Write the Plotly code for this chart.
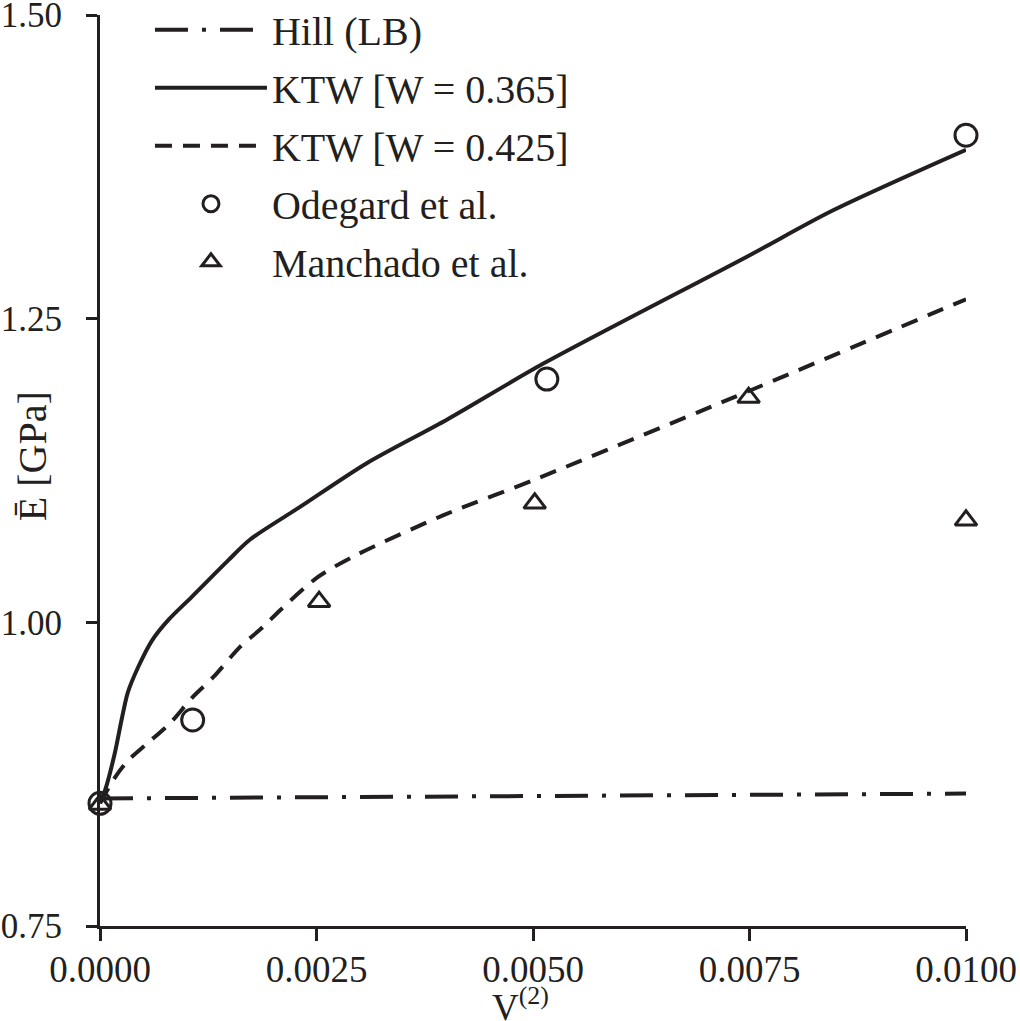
import plotly.graph_objects as go

# ---------------- data ----------------
hill_x = [0.0, 0.005, 0.010]
hill_y = [0.855, 0.857, 0.859]

ktw365_x = [0.0, 0.00006, 0.00017, 0.00025, 0.00032, 0.00044, 0.00060, 0.00079, 0.00106,
            0.00148, 0.00173, 0.00231, 0.00308, 0.00401, 0.00512, 0.00747, 0.00846, 0.0100]
ktw365_y = [0.851, 0.862, 0.892, 0.920, 0.942, 0.963, 0.985, 1.002, 1.021,
            1.051, 1.068, 1.095, 1.131, 1.167, 1.213, 1.301, 1.339, 1.389]

ktw425_x = [0.0, 0.00017, 0.00032, 0.00054, 0.00081, 0.00107, 0.00131, 0.00162, 0.00188,
            0.00208, 0.00251, 0.00292, 0.00396, 0.0050, 0.00731, 0.0100]
ktw425_y = [0.851, 0.872, 0.886, 0.900, 0.917, 0.9385, 0.955, 0.980, 0.996,
            1.010, 1.037, 1.054, 1.088, 1.117, 1.185, 1.266]

odegard_x = [0.0, 0.00107, 0.00516, 0.0100]
odegard_y = [0.851, 0.9196, 1.2003, 1.401]

manchado_x = [0.0, 0.00253, 0.00502, 0.00749, 0.0100]
manchado_y = [0.850, 1.017, 1.098, 1.185, 1.084]

x_ticks = [0.0, 0.0025, 0.0050, 0.0075, 0.0100]
x_ticklabels = ["0.0000", "0.0025", "0.0050", "0.0075", "0.0100"]
y_ticks = [0.75, 1.00, 1.25, 1.50]
y_ticklabels = ["0.75", "1.00", "1.25", "1.50"]

names = ["Hill (LB)", "KTW [W = 0.365]", "KTW [W = 0.425]", "Odegard et al.", "Manchado et al."]

# ---------------- style ----------------
INK = "#231f20"
FONT = "Liberation Serif, Times New Roman, serif"

fig = go.Figure()
fig.add_trace(go.Scatter(x=hill_x, y=hill_y, mode="lines", name=names[0], legendgroup="a",
                         line=dict(color=INK, width=4, dash="33px,14px,4px,14px")))
fig.add_trace(go.Scatter(x=ktw365_x, y=ktw365_y, mode="lines", name=names[1], legendgroup="b",
                         line=dict(color=INK, width=4, shape="spline", smoothing=0.8)))
fig.add_trace(go.Scatter(x=ktw425_x, y=ktw425_y, mode="lines", name=names[2], legendgroup="c",
                         line=dict(color=INK, width=4, dash="17px,11px", shape="spline", smoothing=0.8)))
fig.add_trace(go.Scatter(x=odegard_x, y=odegard_y, mode="markers", name=names[3], legendgroup="d",
                         cliponaxis=False,
                         marker=dict(symbol="circle-open", size=22, color=INK, line=dict(width=3, color=INK))))
fig.add_trace(go.Scatter(x=manchado_x, y=manchado_y, mode="markers", name=names[4], legendgroup="e",
                         cliponaxis=False,
                         marker=dict(symbol="triangle-up-open", size=19, color=INK, line=dict(width=3, color=INK))))

fig.update_layout(
    template="none",
    width=1020, height=1021,
    margin=dict(l=100, r=54, t=15, b=95, autoexpand=False),
    paper_bgcolor="white", plot_bgcolor="white",
    font=dict(family=FONT, color=INK, size=38),
    showlegend=True,
    legend=dict(x=0.0577, y=1.0195, xanchor="left", yanchor="top",
                font=dict(family=FONT, size=40, color=INK),
                bgcolor="rgba(0,0,0,0)", borderwidth=0, itemwidth=112,
                tracegroupgap=3, traceorder="grouped"),
    annotations=[
        dict(text="Ē [GPa]", xref="paper", yref="paper", x=-0.077, y=0.516,
             xanchor="center", yanchor="middle", textangle=-90, showarrow=False,
             font=dict(family=FONT, size=40, color=INK)),
        dict(text="V<sup>(2)</sup>", xref="paper", yref="paper", x=0.486, y=-0.0865,
             xanchor="center", yanchor="middle", showarrow=False,
             font=dict(family=FONT, size=37, color=INK)),
    ],
)
fig.update_xaxes(range=[0, 0.01], tickvals=x_ticks, ticktext=x_ticklabels, automargin=False,
                 showline=True, linewidth=3, linecolor=INK, ticks="outside", ticklen=12,
                 tickwidth=3, tickcolor=INK, showgrid=False, zeroline=False,
                 ticklabelstandoff=-3, ticklabeloverflow="allow",
                 tickfont=dict(family=FONT, size=37, color=INK))
fig.update_yaxes(range=[0.75, 1.5], tickvals=y_ticks, ticktext=y_ticklabels, automargin=False,
                 showline=True, linewidth=3, linecolor=INK, ticks="outside", ticklen=11,
                 tickwidth=3, tickcolor=INK, showgrid=False, zeroline=False,
                 ticklabelstandoff=17, ticklabeloverflow="allow",
                 tickfont=dict(family=FONT, size=35, color=INK))

fig.write_html("out.html")
